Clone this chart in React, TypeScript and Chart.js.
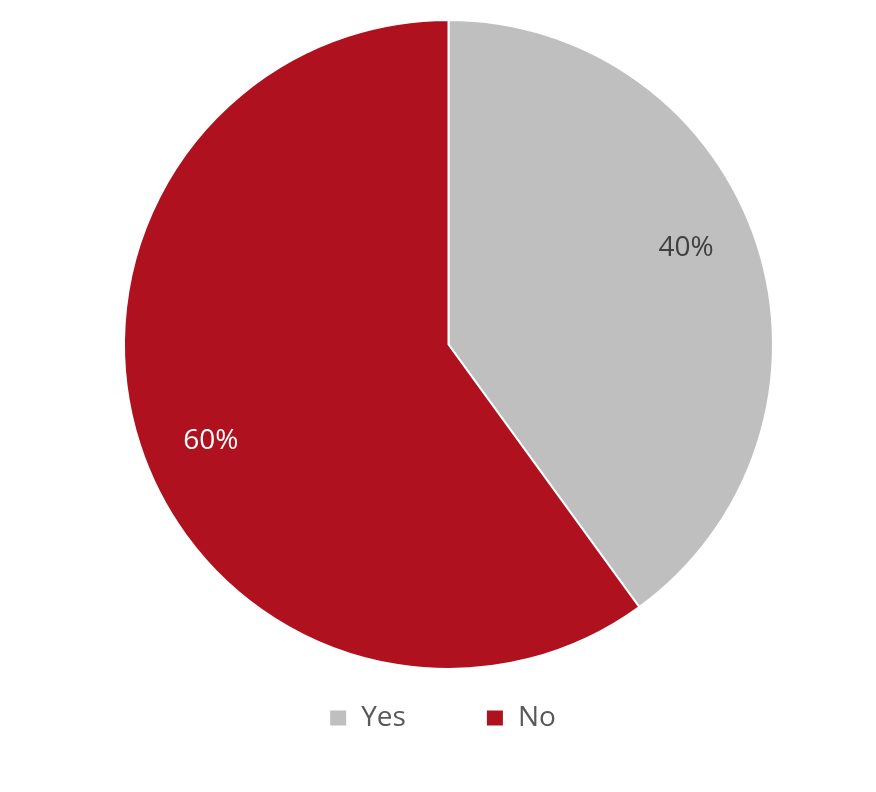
import { useEffect, useRef } from "react"
import { Chart, registerables, Plugin } from "chart.js"

Chart.register(...registerables)

const categories = ["Yes", "No"]
const shares = [40, 60]
const sliceColors = ["#BFBFBF", "#B0111E"]
const labelColors = ["#404040", "#FFFFFF"]

const FONT = "'Open Sans', 'Noto Sans', sans-serif"

// draws the percentage inside each slice
const sliceLabels: Plugin<"pie"> = {
  id: "sliceLabels",
  afterDatasetsDraw(chart) {
    const ctx = chart.ctx
    const meta = chart.getDatasetMeta(0)
    const total = shares.reduce((a, b) => a + b, 0)
    meta.data.forEach((el: any, i) => {
      const { x, y, startAngle, endAngle, outerRadius } = el.getProps(
        ["x", "y", "startAngle", "endAngle", "outerRadius"],
        true
      )
      const mid = (startAngle + endAngle) / 2 - (4 * Math.PI) / 180
      const r = outerRadius * 0.79
      ctx.save()
      ctx.font = `28px ${FONT}`
      ctx.fillStyle = labelColors[i]
      ctx.textAlign = "center"
      ctx.textBaseline = "middle"
      ctx.fillText(
        Math.round((shares[i] / total) * 100) + "%",
        x + Math.cos(mid) * r,
        y + Math.sin(mid) * r
      )
      ctx.restore()
    })
  },
}

// pull the legend up closer to the pie (label padding also sets the gap between items)
const legendShift: Plugin<"pie"> = {
  id: "legendShift",
  afterLayout(chart) {
    const lg: any = chart.legend
    if (!lg) return
    lg.top -= 46
    lg.bottom -= 46
    lg.left -= 6
    lg.right -= 6
  },
}

export default function App() {
  const chartRef = useRef<HTMLCanvasElement>(null)
  const chartInstance = useRef<Chart | null>(null)

  useEffect(() => {
    if (!chartRef.current) return
    if (chartInstance.current) chartInstance.current.destroy()

    const ctx = chartRef.current.getContext("2d")
    if (!ctx) return

    chartInstance.current = new Chart(ctx, {
      type: "pie",
      data: {
        labels: categories,
        datasets: [
          {
            data: shares,
            backgroundColor: sliceColors,
            borderColor: "#FFFFFF",
            borderWidth: 2,
          },
        ],
      },
      options: {
        animation: false,
        responsive: true,
        maintainAspectRatio: false,
        layout: {
          padding: { top: 19, left: 21, right: 0, bottom: 4 },
        },
        plugins: {
          tooltip: { enabled: false },
          legend: {
            position: "bottom",
            labels: {
              boxWidth: 18,
              boxHeight: 17,
              padding: 80,
              color: "#595959",
              font: { size: 28, family: FONT },
            },
          },
        },
      },
      plugins: [sliceLabels, legendShift],
    })

    return () => {
      if (chartInstance.current) {
        chartInstance.current.destroy()
        chartInstance.current = null
      }
    }
  }, [])

  return (
    <div
      style={{
        position: "fixed",
        left: 0,
        top: 0,
        width: 876,
        height: 792,
        background: "#FFFFFF",
      }}
    >
      <canvas ref={chartRef} />
    </div>
  )
}
